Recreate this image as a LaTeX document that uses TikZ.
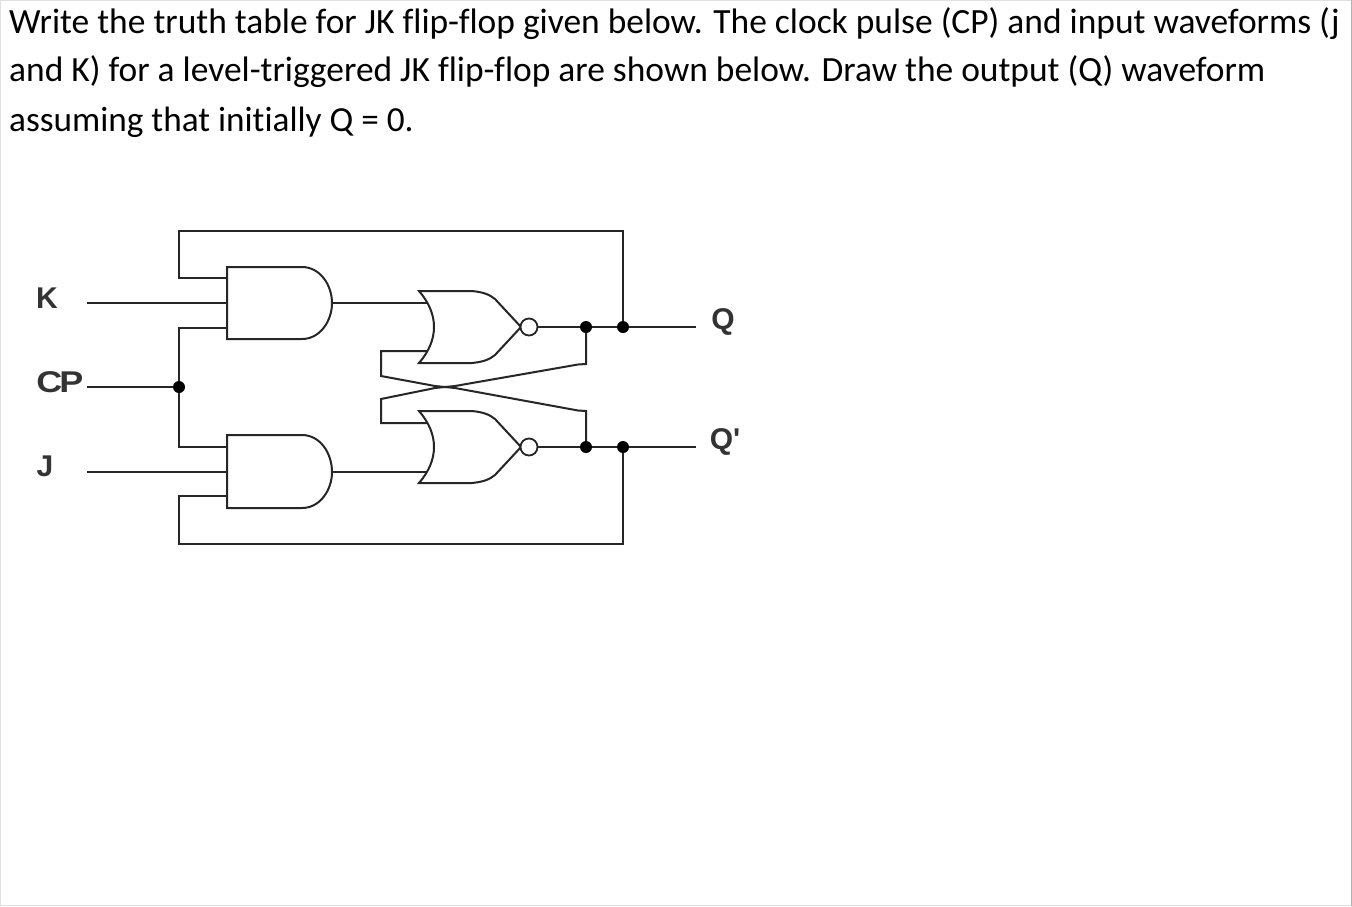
\documentclass[tikz,border=0pt]{standalone}
\usepackage{graphicx}
\usepackage{fontspec}
\setmainfont[Ligatures=NoCommon]{Carlito}
\newfontfamily\labelfont{Liberation Sans}
\tikzset{
  wire/.style={line width=2pt,draw=black!85,line join=miter},
  gate/.style={line width=2pt,draw=black!85,fill=white,line join=miter},
  dotj/.style={circle,fill=black,inner sep=0pt,minimum size=12pt},
  bubble/.style={circle,draw=black!85,line width=1.8pt,fill=white,inner sep=0pt,minimum size=17pt},
  txt/.style={anchor=base west,inner sep=0pt,font=\fontsize{35.45pt}{35.45pt}\selectfont,text=black},
  lbl/.style={anchor=center,inner sep=0pt,font=\labelfont\bfseries\fontsize{30pt}{30pt}\selectfont,text=black!80}
}
\begin{document}
\begin{tikzpicture}[x=1pt,y=-1pt]
\useasboundingbox (0,0) rectangle (1352,906);
\fill[white] (0,0) rectangle (1352,906);
\draw[black!12,line width=1.2pt] (0.5,0.5) rectangle (1351.5,905.5);
\draw[black!30,line width=1pt] (1351.5,0) -- (1351.5,906);
% text
\node[txt] (t1) at (9,33) {Write the truth table for JK flip-flop given below. The clock pulse (CP) and input waveforms (j};
\node[txt] (t2) at (9,81) {and K) for a level-triggered JK flip-flop are shown below. Draw the output (Q) waveform};
\node[txt,font=\fontsize{35.25pt}{35.25pt}\selectfont] (t3) at (9,131) {assuming that initially Q = 0.};
% labels
\node[lbl] (lK) at (47,298) {K};
\node[lbl] (lCP) at (60,382) {\scalebox{1.2}[1]{C\kern-2.5pt P}};
\node[lbl] (lJ) at (45,466) {J};
\node[lbl] (lQ) at (723,322) {Q};
\node[lbl] (lQb) at (725,442) {Q'};
% terminals
\coordinate (kin) at (87,303);
\coordinate (cpin) at (87,387);
\coordinate (jin) at (87,472);
\coordinate (qout) at (696,327);
\coordinate (qbout) at (696,447);
\coordinate (cpj) at (179,387);
\coordinate (qa) at (586,327);
\coordinate (qb) at (623,327);
\coordinate (qba) at (586,447);
\coordinate (qbb) at (623,447);
\coordinate (a1o) at (332,303);
\coordinate (a2o) at (332,472);
\coordinate (n1i) at (428,303);
\coordinate (n1j) at (428,351);
\coordinate (n2i) at (428,423);
\coordinate (n2j) at (428,472);
% wires
\draw[wire] (kin) -- (227,303);
\draw[wire] (jin) -- (227,472);
\draw[wire] (cpin) -- (cpj);
\draw[wire] (227,328) -| (cpj) |- (227,447);
\draw[wire] (227,278) -| (179,231) -| (qb);
\draw[wire] (227,496) -| (179,544) -| (qbb);
\draw[wire] (a1o) -- (n1i);
\draw[wire] (a2o) -- (n2j);
\draw[wire] (538,327) -- (qout);
\draw[wire] (538,447) -- (qbout);
\draw[wire] (n1j) -- (381,351) -- (381,376) -- (435,386) -- (455,388) -- (578,410.5) -- (586,411) -- (qba);
\draw[wire] (n2i) -- (381,423) -- (381,399) -- (435,388) -- (455,386) -- (578,364.5) -- (586,364) -- (qa);
% AND gates
\draw[gate] (227,267) -- (302,267) .. controls (320,267) and (332,285) .. (332,303) .. controls (332,321) and (320,339) .. (302,339) -- (227,339) -- cycle;
\draw[gate] (227,435) -- (302,435) .. controls (320,435) and (332,453) .. (332,472) .. controls (332,490) and (320,508) .. (302,508) -- (227,508) -- cycle;
% NOR gates
\draw[gate] (419,291) -- (472,291) .. controls (482,292) and (489,294) .. (495,299) -- (521,327) -- (495,355) .. controls (489,360) and (482,362) .. (472,363) -- (419,363) .. controls (439,340) and (439,314) .. (419,291) -- cycle;
\draw[gate] (419,411) -- (472,411) .. controls (482,412) and (489,414) .. (495,419) -- (521,447) -- (495,475) .. controls (489,480) and (482,482) .. (472,483) -- (419,483) .. controls (439,460) and (439,434) .. (419,411) -- cycle;
\node[bubble] (b1) at (529,327) {};
\node[bubble] (b2) at (529,447) {};
% junctions
\node[dotj] at (cpj) {};
\node[dotj] at (qa) {};
\node[dotj] at (qb) {};
\node[dotj] at (qba) {};
\node[dotj] at (qbb) {};
\end{tikzpicture}
\end{document}
